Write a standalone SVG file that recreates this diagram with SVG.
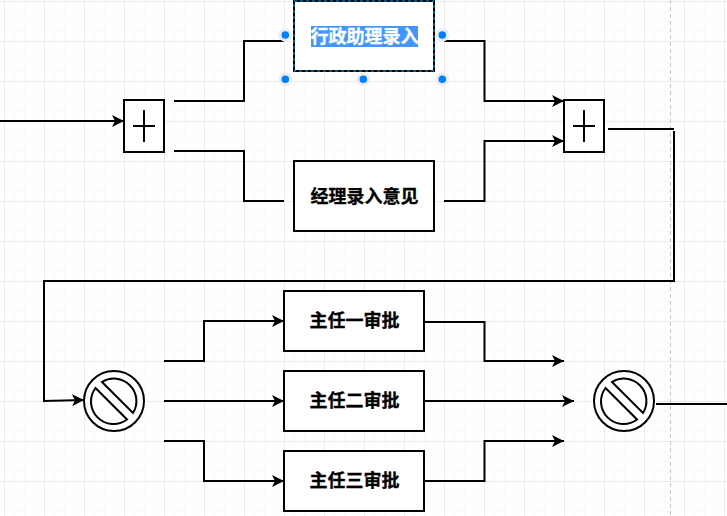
<svg xmlns="http://www.w3.org/2000/svg" width="727" height="516" viewBox="0 0 727 516">
<style>
.c{fill:none;stroke:#000;stroke-width:2}
.n{fill:#fff;stroke:#000;stroke-width:2}
.s{fill:none;stroke:#000;stroke-width:2}
.t{font-family:"Liberation Sans","Noto Sans CJK SC",sans-serif;font-size:18px;font-weight:700;text-anchor:middle;fill:#000;stroke:#000;stroke-width:.3}
.h{fill:#007fff;stroke:#ececec;stroke-width:3}
</style>
<defs>
<pattern id="g" x="4" y="1" width="40" height="40" patternUnits="userSpaceOnUse">
<path d="M10.500 0V40M20.500 0V40M30.500 0V40M0 10.500H40M0 20.500H40M0 30.500H40" fill="none" stroke="#fafafa" stroke-width="1"/>
<path d="M0.500 0V40M0 0.500H40" fill="none" stroke="#ebebeb" stroke-width="1"/>
</pattern>
<marker id="a" markerUnits="userSpaceOnUse" markerWidth="14" markerHeight="14" refX="12" refY="7" orient="auto">
<path d="M0 1L12 7L0 13L3 7Z" fill="#000"/>
</marker>
</defs>
<rect width="727" height="516" fill="#fff"/>
<rect width="727" height="516" fill="url(#g)"/>
<path d="M670.500 0V516" stroke="#c4c4c4" stroke-width="1" stroke-dasharray="4 3" fill="none"/>
<g id="connectors">
<path class="c" marker-end="url(#a)" d="M0 121H124"/>
<path class="c" d="M174 101H244V41H284"/>
<path class="c" d="M174 151H244V201H284"/>
<path class="c" marker-end="url(#a)" d="M444 41H484.500V101H564"/>
<path class="c" marker-end="url(#a)" d="M444 201H484.500V141H564"/>
<path class="c" d="M608 129H674"/>
<path class="c" d="M674 131V281H44V401L84 400" marker-end="url(#a)"/>
<path class="c" marker-end="url(#a)" d="M164 361H204V321H284"/>
<path class="c" marker-end="url(#a)" d="M164 401H284"/>
<path class="c" marker-end="url(#a)" d="M164 441H204V481H284"/>
<path class="c" marker-end="url(#a)" d="M424 322H484.500V361H564"/>
<path class="c" marker-end="url(#a)" d="M424 401H574"/>
<path class="c" marker-end="url(#a)" d="M424 481H484.500V441H564"/>
<path class="c" d="M656 404H727"/>
</g>
<g id="gateway-split">
<rect class="n" x="124" y="100" width="40" height="52"/>
<path class="s" d="M144 110V142M133 126H155"/>
</g>
<g id="gateway-join">
<rect class="n" x="564" y="100" width="40" height="52"/>
<path class="s" d="M584 110V142M573 126H595"/>
</g>
<g id="task-admin">
<rect class="n" x="294" y="1" width="140" height="70"/>
<rect x="294" y="1" width="140" height="70" fill="none" stroke="#00a8ff" stroke-width="1" stroke-dasharray="3 3"/>
<rect x="311" y="26" width="107" height="21" fill="#3f97ff"/>
<text class="t" x="364.500" y="43" style="fill:#fff;stroke:#fff">行政助理录入</text>
<circle class="h" cx="285.300" cy="35" r="5.300"/>
<circle class="h" cx="442.300" cy="35" r="5.300"/>
<circle class="h" cx="285.300" cy="79.300" r="5.300"/>
<circle class="h" cx="363.300" cy="79.300" r="5.300"/>
<circle class="h" cx="442.300" cy="79.300" r="5.300"/>
</g>
<g id="task-manager">
<rect class="n" x="294" y="161" width="140" height="70"/>
<text class="t" x="364.500" y="203">经理录入意见</text>
</g>
<g id="task-director1">
<rect class="n" x="284" y="291" width="140" height="60"/>
<text class="t" x="354.500" y="327">主任一审批</text>
</g>
<g id="task-director2">
<rect class="n" x="284" y="371" width="140" height="60"/>
<text class="t" x="354.500" y="407">主任二审批</text>
</g>
<g id="task-director3">
<rect class="n" x="284" y="451" width="140" height="60"/>
<text class="t" x="354.500" y="487">主任三审批</text>
</g>
<g id="gateway-or-split">
<circle class="n" cx="114" cy="401" r="30"/>
<path class="s" d="M95.500 388L127 419.500A22.500 22.500 0 0 1 95.500 388Z"/>
<path class="s" d="M102 382L133 413A22.500 22.500 0 0 0 102 382Z"/>
</g>
<g id="gateway-or-join">
<circle class="n" cx="624" cy="401" r="30"/>
<path class="s" d="M605.500 388L637 419.500A22.500 22.500 0 0 1 605.500 388Z"/>
<path class="s" d="M612 382L643 413A22.500 22.500 0 0 0 612 382Z"/>
</g>
</svg>
